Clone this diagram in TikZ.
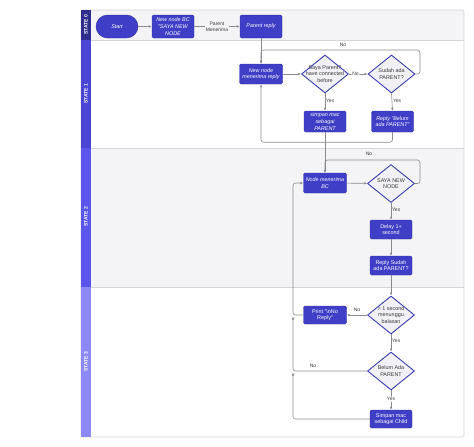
\documentclass[tikz,border=0pt]{standalone}
\usepackage{fontspec}
\setmainfont{Liberation Sans}
\usetikzlibrary{shapes.geometric,arrows.meta}
\definecolor{boxblue}{HTML}{3E3EC6}
\definecolor{boxedge}{HTML}{3030A8}
\definecolor{decfill}{HTML}{F1F1F5}
\definecolor{decedge}{HTML}{3B3BB0}
\definecolor{linegray}{HTML}{8A8A8E}
\definecolor{textgray}{HTML}{3A3A3A}
\definecolor{lanegray}{HTML}{F4F4F6}
\definecolor{laneline}{HTML}{D4D4D9}
\definecolor{hzero}{HTML}{2F2C8C}
\definecolor{hone}{HTML}{4A45D4}
\definecolor{htwo}{HTML}{5B55EC}
\definecolor{hthree}{HTML}{8C88F6}
\newcommand\myfs{\fontsize{5.4}{6.6}\selectfont}
\newcommand\mylfs{\fontsize{5}{6}\selectfont}
\tikzset{
  proc/.style={rectangle, rounded corners=1.5pt, fill=boxblue, draw=boxedge, line width=0.4pt,
    text=white, minimum width=42pt, minimum height=20pt, inner sep=0.5pt, align=center, font=\myfs},
  term/.style={proc, rounded corners=11.5pt, minimum height=23pt},
  dec/.style={diamond, fill=decfill, draw=decedge, line width=0.9pt, minimum width=47pt,
    minimum height=38pt, inner sep=0pt},
  dtxt/.style={align=center, font=\myfs, text=textgray, inner sep=0pt},
  conn/.style={draw=linegray, line width=0.6pt, -{Latex[length=3pt,width=2.6pt]}, rounded corners=2.5pt},
  lbl/.style={font=\mylfs, text=textgray, inner sep=0.8pt, align=center},
  hdr/.style={rotate=90, text=white, font=\bfseries\fontsize{5}{6}\selectfont, inner sep=0pt},
}
\begin{document}
\begin{tikzpicture}[x=1pt,y=-1pt]
\useasboundingbox (0,0) rectangle (474,447);
% lanes
\fill[lanegray] (91,10) rectangle (464,40);
\fill[white] (91,40) rectangle (464,148);
\fill[lanegray] (91,148) rectangle (464,287);
\fill[white] (91,287) rectangle (464,437);
\draw[laneline, line width=0.6pt] (91,40) -- (464,40) (91,148) -- (464,148) (91,287) -- (464,287);
\draw[laneline, line width=0.6pt, rounded corners=2pt] (81,10) rectangle (464,437);
\fill[hzero] (81,10) rectangle (91,40);
\fill[hone] (81,40) rectangle (91,148);
\fill[htwo] (81,148) rectangle (91,287);
\fill[hthree] (81,287) rectangle (91,437);
\node[hdr] (h0) at (86,25) {STATE 0};
\node[hdr] (h1) at (86,94) {STATE 1};
\node[hdr] (h2) at (86,217) {STATE 2};
\node[hdr] (h3) at (86,362) {STATE 3};

% state 0
\node[term, font=\myfs\itshape] (start) at (117,26.5) {Start};
\node[proc, minimum height=23pt, font=\myfs\itshape] (nbc) at (173,26.5) {New node BC\\"SAYA NEW\\NODE};
\node[proc, minimum height=23pt, font=\myfs\itshape] (preply) at (261,26.5) {Parent reply};

% state 1
\node[proc, font=\myfs\itshape, minimum width=43pt] (nmr) at (261,74) {New node\\menerima reply};
\node[dec] (d1) at (325,74) {};
\node[dtxt] (d1t) at (d1) {Saya Parent?\\have connected\\before};
\node[dec] (d2) at (391.5,74) {};
\node[dtxt] (d2t) at (d2) {Sudah ada\\PARENT?};
\node[proc, font=\myfs\itshape, minimum height=21pt] (sp) at (325,121.5) {simpan mac\\sebagai\\PARENT};
\node[proc, font=\myfs\itshape, minimum height=21pt] (rb) at (392.5,121.5) {Reply "Belum\\ada PARENT"};

% state 2
\node[proc, font=\myfs\itshape, minimum width=43pt] (nmbc) at (325,183) {Node menerima\\BC};
\node[dec] (d3) at (391,183.5) {};
\node[dtxt] (d3t) at (d3) {SAYA NEW\\NODE};
\node[proc, minimum height=19pt] (delay) at (391,229.5) {Delay 1+\\second};
\node[proc, minimum height=19pt] (rsa) at (391,265.5) {Reply Sudah\\ada PARENT?};

% state 3
\node[dec] (d4) at (391,315) {};
\node[dtxt] (d4t) at (d4) {> 1 second\\menunggu\\balasan};
\node[proc, minimum height=18pt, minimum width=43pt] (print) at (325,315) {Print "\textbackslash nNo\\Reply"};
\node[dec] (d5) at (391,371) {};
\node[dtxt] (d5t) at (d5) {Belum Ada\\PARENT};
\node[proc, minimum height=18pt] (child) at (391,419) {Simpan mac\\sebagai Child};

% connectors state 0
\draw[conn] (start) -- (nbc);
\draw[conn] (nbc) -- node[lbl, fill=lanegray] (lpm) {Parent\\Menerima} (preply);
\draw[conn] (preply.south) -- (nmr.north);

% state 1
\draw[conn] (nmr) -- (d1);
\draw[conn] (d1) -- node[lbl, fill=white, pos=0.35] (lno1) {No} (d2);
\draw[conn] (d2.east) -| (420,50) -| (nmr.north);
\node[lbl] (lno2) at (343,45) {No};
\draw[conn] (d1.south) -- node[lbl, right, pos=0.45] (lyes1) {Yes} (sp.north);
\draw[conn] (d2.south) -- node[lbl, right, pos=0.45] (lyes2) {Yes} (rb.north);
\draw[conn] (rb.south) -- ++(0,10) -| (nmr.south);

% state 2
\draw[conn] (sp.south) -- (nmbc.north);
\draw[conn] (nmbc) -- (d3);
\draw[conn] (d3.east) -| (420,160) -| (nmbc.north);
\node[lbl] (lno3) at (369,154) {No};
\draw[conn] (d3.south) -- node[lbl, right, pos=0.4] (lyes3) {Yes} (delay.north);
\draw[conn] (delay) -- (rsa);
\draw[conn] (rsa.south) -- (d4.north);

% state 3
\draw[conn] (d4) -- (print);
\node[lbl] (lno4) at (357,310) {No};
\draw[conn] (print.west) -| (293,183) -- (nmbc.west);
\draw[conn] (d4.south) -- node[lbl, right, pos=0.4] (lyes4) {Yes} (d5.north);
\draw[conn] (d5.west) -| (293,316.5);
\node[lbl] (lno5) at (313,366) {No};
\draw[conn] (d5.south) -- node[lbl, fill=white, pos=0.45] (lyes5) {Yes} (child.north);
\draw[conn] (child.west) -| (293,372.5);
\end{tikzpicture}
\end{document}
